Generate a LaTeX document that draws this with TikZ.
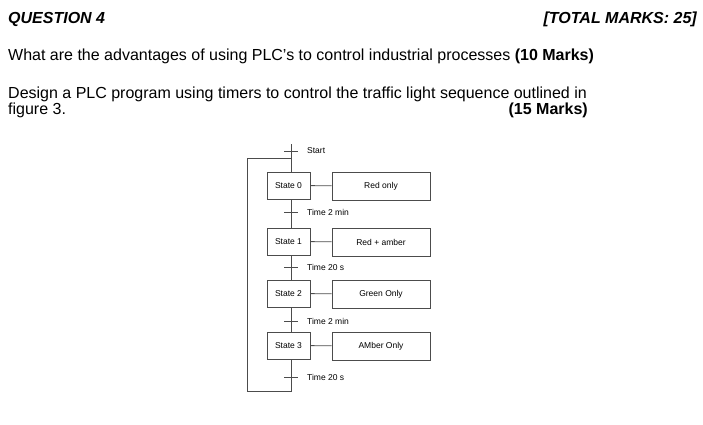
\documentclass[tikz,border=0pt]{standalone}
\usepackage{fontspec}
\setmainfont{Liberation Sans}
\begin{document}
\begin{tikzpicture}[x=1pt,y=-1pt,
  ln/.style={draw=black!70,line width=0.8pt},
  st/.style={draw=black!70,line width=0.8pt,minimum width=43pt,minimum height=27pt,inner sep=0pt,font=\fontsize{8.5}{9}\selectfont},
  ac/.style={draw=black!70,line width=0.8pt,minimum width=98pt,minimum height=28pt,inner sep=0pt,font=\fontsize{8.5}{9}\selectfont},
  lb/.style={anchor=west,font=\fontsize{8.5}{9}\selectfont,inner sep=0pt},
  tx/.style={anchor=base west,inner sep=0pt,font=\fontsize{16}{18}\selectfont}]
\useasboundingbox (0,0) rectangle (703,424);
\node[tx,font=\fontsize{16}{18}\selectfont\bfseries\itshape] (q) at (8,23) {QUESTION 4};
\node[tx,anchor=base east,font=\fontsize{16}{18}\selectfont\bfseries\itshape] (tm) at (697,23) {[TOTAL MARKS: 25]};
\node[tx] (l1) at (8,60) {What are the advantages of using PLC’s to control industrial processes \textbf{(10 Marks)}};
\node[tx] (l2) at (8,98) {Design a PLC program using timers to control the traffic light sequence outlined in};
\node[tx] (l3) at (8,114) {figure 3.};
\node[tx,anchor=base east,font=\fontsize{16}{18}\selectfont\bfseries] (l4) at (588,114) {(15 Marks)};
% states
\node[st] (s0) at (288.5,185.5) {State 0};
\node[st] (s1) at (288.5,241.5) {State 1};
\node[st] (s2) at (288.5,293.5) {State 2};
\node[st] (s3) at (288.5,345.5) {State 3};
\node[ac] (a0) at (381,186) {Red only};
\node[ac] (a1) at (381,242) {Red + amber};
\node[ac] (a2) at (381,294) {Green Only};
\node[ac] (a3) at (381,346) {AMber Only};
\foreach \i in {0,...,3} \draw[ln] (s\i) -- (a\i);
\coordinate (top) at (291,144);
\coordinate (bot) at (291,391);
\coordinate (bl) at (247,391);
\coordinate (tl) at (247,158);
\coordinate (tr) at (291,158);
\draw[ln] (top) -- (s0.north -| top);
\draw[ln] (s0.south -| top) -- (s1.north -| top);
\draw[ln] (s1.south -| top) -- (s2.north -| top);
\draw[ln] (s2.south -| top) -- (s3.north -| top);
\draw[ln] (s3.south -| top) -- (bot) -- (bl) -- (tl) -- (tr);
\foreach \y/\t/\n in {151/Start/t0,212/Time 2 min/t1,267/Time 20 s/t2,321/Time 2 min/t3,377/Time 20 s/t4}{
  \coordinate (\n) at (291,\y);
  \draw[ln] ([xshift=-7pt]\n) -- ([xshift=7pt]\n);
  \node[lb] (\n l) at ([xshift=16pt]\n) {\t};
}
\end{tikzpicture}
\end{document}
